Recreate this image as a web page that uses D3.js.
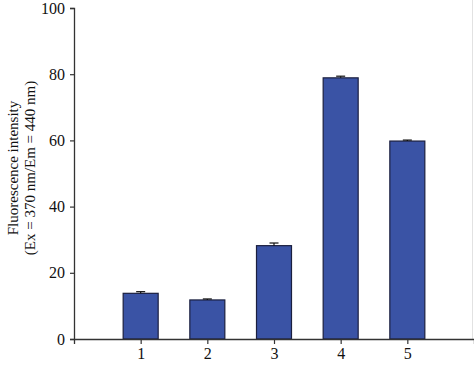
<!DOCTYPE html>
<html>
<head>
<meta charset="utf-8">
<script src="https://cdn.jsdelivr.net/npm/d3@7"></script>
<style>
  body { margin: 0; background: #fff; }
  svg { display: block; font-family: "Liberation Serif", "DejaVu Serif", serif; }
</style>
</head>
<body>
<div id="chart"></div>
<script>
// chart data
const categories = [1, 2, 3, 4, 5];
const values = [13.8, 11.8, 28.2, 78.9, 59.8];
const errors = [0.5, 0.3, 0.8, 0.5, 0.3];
const yTicks = [0, 20, 40, 60, 80, 100];

const width = 474, height = 366;
const margin = { top: 8, right: 0, bottom: 27, left: 74 };

const svg = d3.select("#chart").append("svg")
    .attr("width", width)
    .attr("height", height);

const x = d3.scaleLinear().domain([0, 6]).range([margin.left, width - margin.right]);
const y = d3.scaleLinear().domain([0, 100]).range([height - margin.bottom, margin.top]);
const barW = 35;

// faint frame edge on the right
svg.append("line")
    .attr("x1", 472.5).attr("x2", 472.5)
    .attr("y1", 0).attr("y2", y(0))
    .attr("stroke", "#e2e2e2");

// bars
svg.append("g")
    .selectAll("rect")
    .data(categories)
    .enter().append("rect")
    .attr("x", (d, i) => x(d) - barW / 2)
    .attr("y", (d, i) => y(values[i]))
    .attr("width", barW)
    .attr("height", (d, i) => y(0) - y(values[i]))
    .attr("fill", "#3a53a5")
    .attr("stroke", "#1b1f3f")
    .attr("stroke-width", 1.2);

// error bars (upper half only)
const err = svg.append("g").attr("stroke", "#111").attr("stroke-width", 1.2);
categories.forEach((d, i) => {
    err.append("line")
        .attr("x1", x(d)).attr("x2", x(d))
        .attr("y1", y(values[i])).attr("y2", y(values[i] + errors[i]));
    err.append("line")
        .attr("x1", x(d) - 4.5).attr("x2", x(d) + 4.5)
        .attr("y1", y(values[i] + errors[i])).attr("y2", y(values[i] + errors[i]));
});

// axes
const yAxis = svg.append("g")
    .attr("transform", `translate(${margin.left},0)`)
    .call(d3.axisLeft(y).tickValues(yTicks).tickSizeOuter(0).tickSize(4).tickPadding(5));

const xAxis = svg.append("g")
    .attr("transform", `translate(0,${y(0)})`)
    .call(d3.axisBottom(x).tickValues(categories).tickFormat(d3.format("d")).tickSizeOuter(0).tickSize(5).tickPadding(4));

[yAxis, xAxis].forEach(a => {
    a.select(".domain").attr("stroke", "#333").attr("stroke-width", 1.3);
    a.selectAll(".tick line").attr("stroke", "#333").attr("stroke-width", 1.2);
    a.selectAll("text")
        .attr("fill", "#111")
        .style("font-family", '"Liberation Serif", "DejaVu Serif", serif')
        .style("font-size", "16px");
});

// y-axis title
const title = svg.append("text")
    .attr("transform", "translate(18,168) rotate(-90)")
    .attr("text-anchor", "middle")
    .attr("fill", "#111")
    .style("font-size", "15px");
title.append("tspan").attr("x", 0).attr("dy", 0).text("Fluorescence intensity");
title.append("tspan").attr("x", 0).attr("dy", 17).text("(Ex = 370 nm/Em = 440 nm)");
</script>
</body>
</html>
